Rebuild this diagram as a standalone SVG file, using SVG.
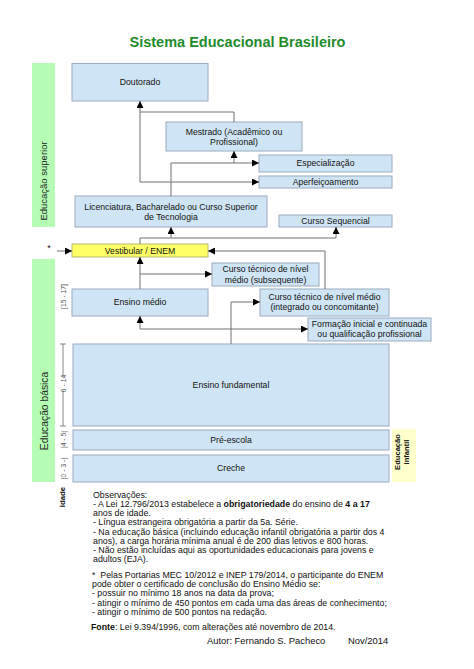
<svg xmlns="http://www.w3.org/2000/svg" width="474" height="669" viewBox="0 0 474 669">
<style>
text{font-family:"Liberation Sans",Arial,sans-serif;fill:#111}
.box{fill:#cfe5f5;stroke:#9aacbf;stroke-width:1}
.lbl{font-size:8.7px;text-anchor:middle}
.note{font-size:8.8px}
.age{font-size:6.8px;fill:#555;text-anchor:middle}
.con path{fill:none;stroke:#707070;stroke-width:1}
.arr path{marker-end:url(#ah)}
</style>
<defs>
<marker id="ah" viewBox="0 0 8 8" refX="8" refY="4" markerWidth="7" markerHeight="7" markerUnits="userSpaceOnUse" orient="auto">
<path d="M0,0 L8,4 L0,8 z" fill="#000"/>
</marker>
</defs>
<rect width="474" height="669" fill="#fff"/>
<text x="237.5" y="47" text-anchor="middle" font-size="14.5" font-weight="bold" style="fill:#1f8b2c">Sistema Educacional Brasileiro</text>

<g id="band-superior">
<rect x="32" y="63" width="23" height="164" fill="#b5fdb5"/>
<text transform="translate(47,181) rotate(-90)" text-anchor="middle" font-size="9.5" style="fill:#1d2a1d">Educação superior</text>
</g>
<g id="band-basica">
<rect x="32" y="259" width="23" height="223" fill="#b5fdb5"/>
<text transform="translate(47.5,411) rotate(-90)" text-anchor="middle" font-size="10.3" style="fill:#1d2a1d">Educação básica</text>
</g>
<g id="band-infantil">
<rect x="392" y="429" width="24" height="53" fill="#ffffcc"/>
<text transform="translate(400,452) rotate(-90)" text-anchor="middle" font-size="7.6" font-weight="bold">Educação</text>
<text transform="translate(409,452) rotate(-90)" text-anchor="middle" font-size="7.6" font-weight="bold">infantil</text>
</g>

<g id="age-scale">
<text class="age" transform="translate(65.5,296.5) rotate(-90)">[15 - 17]</text>
<path d="M63,344 V376 M63,391 V426 M60,344 H66 M60,426 H66" stroke="#666" stroke-width="0.8" fill="none"/>
<text class="age" transform="translate(65.5,383.5) rotate(-90)">6 - 14</text>
<text class="age" transform="translate(65.5,439.5) rotate(-90)">|4 - 5|</text>
<text class="age" transform="translate(65.5,468.5) rotate(-90)">|0 - 3 -|</text>
<text transform="translate(65,497) rotate(-90)" text-anchor="middle" font-size="7.8" font-weight="bold">Idade</text>
</g>

<g id="doutorado"><rect class="box" x="72" y="63.5" width="136" height="37.5"/><text class="lbl" x="140" y="85">Doutorado</text></g>
<g id="mestrado"><rect class="box" x="166" y="122" width="136" height="29"/><text class="lbl" x="234" y="135">Mestrado (Acadêmico ou</text><text class="lbl" x="234" y="144.5">Profissional)</text></g>
<g id="especializacao"><rect class="box" x="259" y="155" width="133" height="17"/><text class="lbl" x="325.5" y="166">Especialização</text></g>
<g id="aperfeicoamento"><rect class="box" x="259" y="176" width="133" height="12"/><text class="lbl" x="325.5" y="185">Aperfeiçoamento</text></g>
<g id="licenciatura"><rect class="box" x="75" y="196" width="192" height="31"/><text class="lbl" x="171" y="210">Licenciatura, Bacharelado ou Curso Superior</text><text class="lbl" x="171" y="220">de Tecnologia</text></g>
<g id="sequencial"><rect class="box" x="279" y="215" width="113" height="12"/><text class="lbl" x="335.5" y="224">Curso Sequencial</text></g>
<g id="vestibular"><rect x="72" y="244" width="136" height="13" fill="#ffff66" stroke="#b8b870"/><text class="lbl" x="140" y="253.5">Vestibular / ENEM</text></g>
<text x="49" y="251" text-anchor="middle" font-size="9">*</text>
<g id="tecnico-subsequente"><rect class="box" x="212" y="263" width="107" height="23"/><text class="lbl" x="265.5" y="272">Curso técnico de nível</text><text class="lbl" x="265.5" y="283">médio (subsequente)</text></g>
<g id="ensino-medio"><rect class="box" x="72" y="289" width="136" height="27"/><text class="lbl" x="140" y="305">Ensino médio</text></g>
<g id="tecnico-integrado"><rect class="box" x="260" y="289" width="129" height="27"/><text class="lbl" x="324.5" y="300">Curso técnico de nível médio</text><text class="lbl" x="324.5" y="310">(integrado ou concomitante)</text></g>
<g id="formacao"><rect class="box" x="308" y="318" width="123" height="23"/><text class="lbl" x="369.5" y="327">Formação inicial e continuada</text><text class="lbl" x="369.5" y="337">ou qualificação profissional</text></g>
<g id="fundamental"><rect class="box" x="73" y="344" width="316" height="82"/><text class="lbl" x="231" y="388">Ensino fundamental</text></g>
<g id="pre-escola"><rect class="box" x="73" y="430" width="316" height="20"/><text class="lbl" x="231" y="443">Pré-escola</text></g>
<g id="creche"><rect class="box" x="73" y="455" width="316" height="27"/><text class="lbl" x="231" y="471">Creche</text></g>

<g id="connectors" class="con">
<path d="M140,112 V182"/>
<path d="M171,196 V163"/>
<path d="M140,244 V238 H336"/>
<path d="M325,289 V251"/>
<path d="M140,289 V274"/>
<path d="M231,344 V302"/>
<path d="M140,329 H231"/>
<g class="arr">
<path d="M234,122 V112 H140 V101"/>
<path d="M140,182 H259"/>
<path d="M171,163 H259"/>
<path d="M234,163 V151"/>
<path d="M336,238 V227"/>
<path d="M171,238 V227"/>
<path d="M57,251 H72"/>
<path d="M325,251 H208"/>
<path d="M140,274 V257"/>
<path d="M140,274 H212"/>
<path d="M231,302 H260"/>
<path d="M231,329 H308"/>
<path d="M140,329 V316"/>
</g>
</g>

<g id="notes">
<text class="note" x="93" y="498">Observações:</text>
<text class="note" x="93" y="507">- A Lei 12.796/2013 estabelece a <tspan font-weight="bold">obrigatoriedade</tspan> do ensino de <tspan font-weight="bold">4 a 17</tspan></text>
<text class="note" x="93" y="516">anos de idade.</text>
<text class="note" x="93" y="525.3">- Língua estrangeira obrigatória a partir da 5a. Série.</text>
<text class="note" x="93" y="534.7">- Na educação básica (incluindo educação infantil obrigatória a partir dos 4</text>
<text class="note" x="93" y="543.7">anos), a carga horária mínima anual é de 200 dias letivos e 800 horas.</text>
<text class="note" x="93" y="553">- Não estão incluídas aqui as oportunidades educacionais para jovens e</text>
<text class="note" x="93" y="562.3">adultos (EJA).</text>
<text class="note" x="92" y="578" xml:space="preserve">*  Pelas Portarias MEC 10/2012 e INEP 179/2014, o participante do ENEM</text>
<text class="note" x="92" y="587.3">pode obter o certificado de conclusão do Ensino Médio se:</text>
<text class="note" x="92" y="596.3">- possuir no mínimo 18 anos na data da prova;</text>
<text class="note" x="92" y="605.7">- atingir o mínimo de 450 pontos em cada uma das áreas de conhecimento;</text>
<text class="note" x="92" y="615.3">- atingir o mínimo de 500 pontos na redação.</text>
<text class="note" x="91" y="630.3"><tspan font-weight="bold">Fonte</tspan>: Lei 9.394/1996, com alterações até novembro de 2014.</text>
<text x="207" y="644" font-size="9.4">Autor: Fernando S. Pacheco</text>
<text x="348" y="644" font-size="9.4">Nov/2014</text>
</g>
</svg>
